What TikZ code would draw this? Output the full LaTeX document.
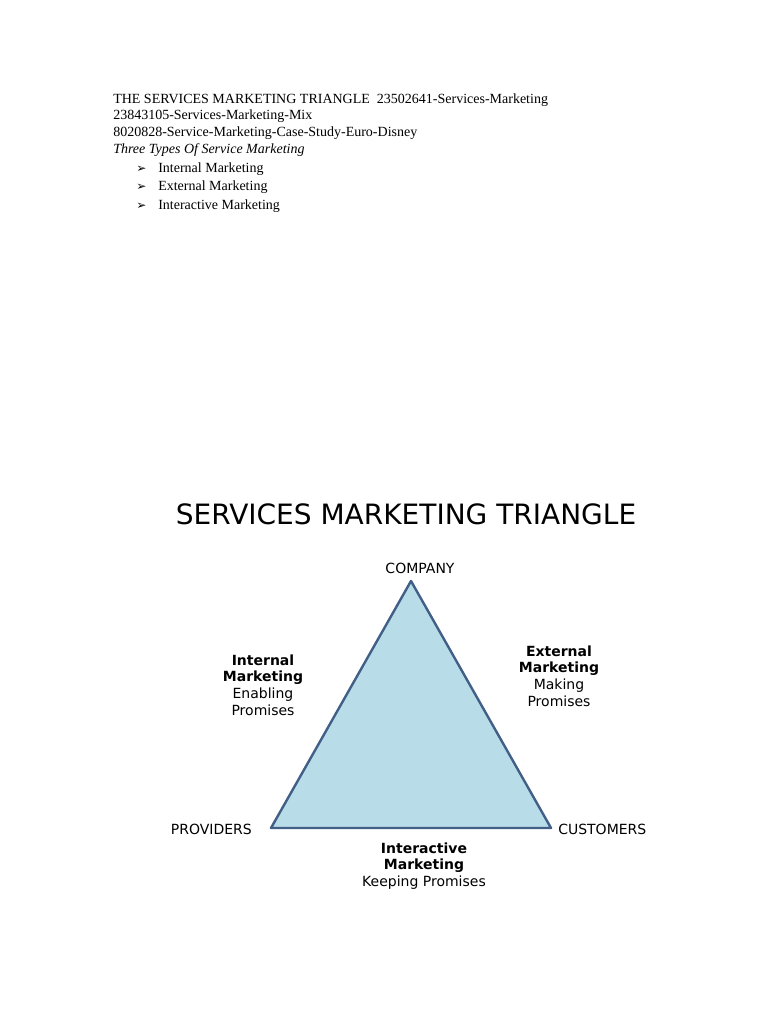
\documentclass[tikz,border=0pt]{standalone}
\usepackage{fontspec}
\setmainfont{Liberation Serif}
\newfontfamily\dv{DejaVu Sans}
\newfontfamily\dvs{DejaVu Serif}
\begin{document}
\begin{tikzpicture}[x=0.75pt,y=-0.75pt,
  hdr/.style={anchor=west,inner sep=0,font=\fontsize{10.5}{12}\selectfont},
  lbl/.style={align=center,inner sep=0,font=\dv\fontsize{10.5}{12.5}\selectfont},
  tri/.style={fill={rgb,255:red,184;green,220;blue,232},draw={rgb,255:red,65;green,95;blue,135},line width=1.8pt,line join=round}]
\useasboundingbox[fill=white] (0,0) rectangle (768,1024);
\node[hdr] (h1) at (113,100) {THE SERVICES MARKETING TRIANGLE\ \ 23502641-Services-Marketing};
\node[hdr] (h2) at (113,116) {23843105-Services-Marketing-Mix};
\node[hdr] (h3) at (113,133) {8020828-Service-Marketing-Case-Study-Euro-Disney};
\node[hdr] (h4) at (113,150) {\itshape Three Types Of Service Marketing};
\foreach \y/\t [count=\i] in {169/Internal Marketing,187/External Marketing,206/Interactive Marketing}{
  \node[hdr] (ba\i) at (136,\y) {\dv\fontsize{9}{10}\selectfont ➢};
  \node[hdr] (b\i) at (158,\y) {\t};
}
\node[inner sep=0,font=\dv\fontsize{21}{25}\selectfont] (title) at (406,514) {SERVICES MARKETING TRIANGLE};
\coordinate (A) at (411,581);
\coordinate (L) at (271,828);
\coordinate (R) at (551,828);
\draw[tri] (A) -- (L) -- (R) -- cycle;
\node[lbl] (company) at (420,568) {COMPANY};
\node[lbl,anchor=east] (prov) at (252,829) {PROVIDERS};
\node[lbl,anchor=west] (cust) at (558,829) {CUSTOMERS};
\node[lbl] (im) at (263,685) {\textbf{Internal}\\\textbf{Marketing}\\Enabling\\Promises};
\node[lbl] (em) at (559,676) {\textbf{External}\\\textbf{Marketing}\\Making\\Promises};
\node[lbl] (ia) at (424,866) {\textbf{Interactive}\\\textbf{Marketing}\\Keeping Promises};
\end{tikzpicture}
\end{document}
